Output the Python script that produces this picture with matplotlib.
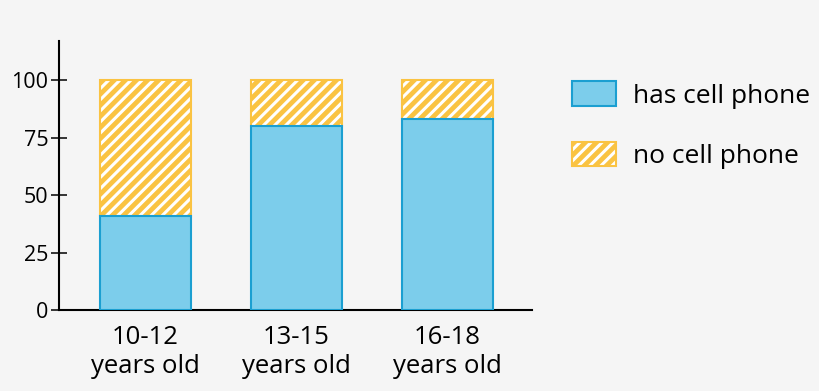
import matplotlib.pyplot as plt
from matplotlib.legend_handler import HandlerTuple
from matplotlib.patches import Patch

plt.rcParams['font.family'] = ['Open Sans', 'DejaVu Sans']
plt.rcParams['hatch.linewidth'] = 2.2

groups = ["10-12\nyears old", "13-15\nyears old", "16-18\nyears old"]
has_phone = [41, 80, 83]
no_phone = [59, 20, 17]
yticks = [0, 25, 50, 75, 100]

BLUE = '#7ccdeb'
BLUE_EDGE = '#1b9fd1'
ORANGE = '#fac342'
BG = '#f5f5f5'

fig = plt.figure(figsize=(8.2, 3.91), dpi=100, facecolor=BG)
ax = fig.add_axes([0.072, 0.207, 0.577, 0.688], facecolor=BG)

x = range(len(groups))
w = 0.6
ax.bar(x, has_phone, width=w, color=BLUE, edgecolor=BLUE_EDGE, linewidth=1.5, zorder=3)
# orange base, white hatch on top, then orange outline
ax.bar(x, no_phone, bottom=has_phone, width=w, color=ORANGE, linewidth=0, zorder=2)
ax.bar(x, no_phone, bottom=has_phone, width=w, color='none', edgecolor='white',
       hatch='///', linewidth=0, zorder=2)
ax.bar(x, no_phone, bottom=has_phone, width=w, color='none', edgecolor=ORANGE,
       linewidth=1.5, zorder=2)

ax.set_xlim(-0.57, 2.56)
ax.set_ylim(0, 117)
ax.set_yticks(yticks)
ax.set_xticks(list(x))
ax.set_xticklabels(groups, fontsize=18.5, linespacing=1.25)
ax.tick_params(axis='y', labelsize=15.5, direction='inout', length=11.5, width=1.1, pad=2)
ax.tick_params(axis='x', length=0, pad=10.5)
for s in ['top', 'right']:
    ax.spines[s].set_visible(False)
for s in ['left', 'bottom']:
    ax.spines[s].set_linewidth(1.5)

h1 = Patch(facecolor=BLUE, edgecolor=BLUE_EDGE, linewidth=1.5)
h2a = Patch(facecolor=ORANGE, linewidth=0)
h2b = Patch(facecolor='none', edgecolor='white', hatch='///', linewidth=0)
h2c = Patch(facecolor='none', edgecolor=ORANGE, linewidth=1.5)
fig.legend([h1, (h2a, h2b, h2c)], ['has cell phone', 'no cell phone'],
           handler_map={tuple: HandlerTuple(ndivide=1, pad=0)},
           loc='upper left', bbox_to_anchor=(0.6976, 0.792), frameon=False,
           borderaxespad=0, borderpad=0,
           fontsize=19, handlelength=1.66, handleheight=1.05, handletextpad=0.65,
           labelspacing=1.25)

fig.savefig('out.png', dpi=100, facecolor=BG)
